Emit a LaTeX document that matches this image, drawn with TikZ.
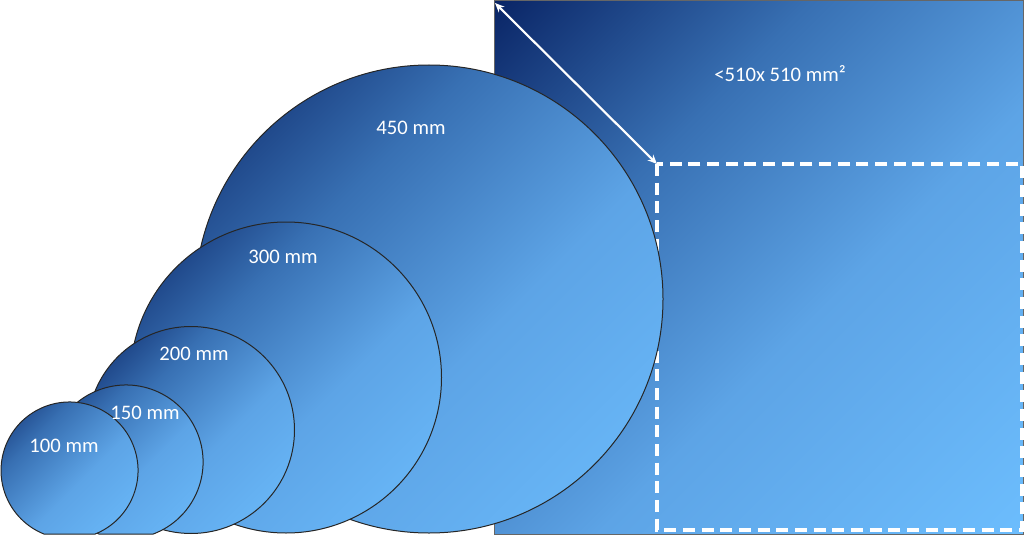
\documentclass[tikz,border=0pt]{standalone}
\usepackage{fontspec}
\setmainfont{Carlito}
\usetikzlibrary{arrows.meta}
\definecolor{gA}{HTML}{0A2566}
\definecolor{gB}{HTML}{3870B3}
\definecolor{gC}{HTML}{5DA4E6}
\definecolor{gD}{HTML}{6CBDFD}
\pgfdeclareverticalshading{bluegrad}{100bp}{color(0bp)=(gD); color(14.6bp)=(gD); color(42.9bp)=(gC); color(64.2bp)=(gB); color(85.4bp)=(gA); color(100bp)=(gA)}
\tikzset{
  wafer/.style={draw=black!85, line width=0.75pt, shading=bluegrad, shading angle=45},
  panel/.style={draw=black!60, line width=0.75pt, shading=bluegrad, shading angle=45},
  lbl/.style={text=white, font=\fontsize{15.5}{18}\selectfont, inner sep=0pt},
  dim/.style={draw=white, line width=1.6pt, {Stealth[length=7pt,width=6pt]}-{Stealth[length=7pt,width=6pt]}},
  dashbox/.style={draw=white, line width=2.5pt, dash pattern=on 9pt off 5pt}
}
\begin{document}
\begin{tikzpicture}[x=0.75pt,y=0.75pt]
\useasboundingbox (0,0) rectangle (1025,544);
% panel
\coordinate (sqBL) at (494,10);
\coordinate (sqTR) at (1023,543);
\coordinate (sqTL) at (495,541);
\coordinate (dTL) at (657,380);
\coordinate (dBR) at (1022,14);
\shade[panel] (sqBL) rectangle (sqTR);
\draw[dashbox] (dTL) rectangle (dBR);
\draw[dim] (sqTL) -- (dTL);
\node[lbl] (sq) at (780,470) {<510x 510 mm²};
% wafers
\shade[wafer] (429,245) circle [radius=234];
\shade[wafer] (286,166.5) circle [radius=155.5];
\shade[wafer] (191,114) circle [radius=103.5];
\shade[wafer] (126+27.3,10) arc[start angle=-69.3, end angle=249.3, radius=77] -- cycle;
\shade[wafer] (69.5+25.7,10) arc[start angle=-68, end angle=248, radius=68.5] -- cycle;
\node[lbl] (w450) at (411,416) {450 mm};
\node[lbl] (w300) at (283,287) {300 mm};
\node[lbl] (w200) at (194,190) {200 mm};
\node[lbl] (w150) at (145,131) {150 mm};
\node[lbl] (w100) at (64,98) {100 mm};
\end{tikzpicture}
\end{document}
